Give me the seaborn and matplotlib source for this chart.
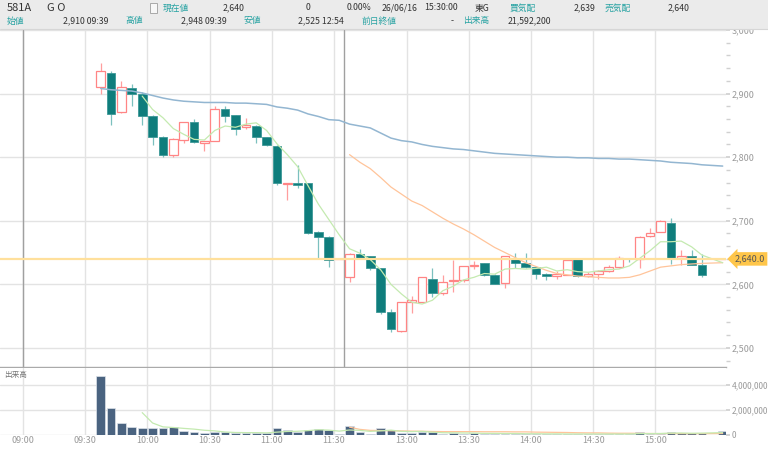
import numpy as np
import matplotlib
matplotlib.use("Agg")
import matplotlib.pyplot as plt
import seaborn as sns
from matplotlib.patches import Rectangle
from matplotlib.lines import Line2D
from matplotlib.ticker import FixedLocator, MultipleLocator, FuncFormatter

# 5-minute bars (lunch break 11:30-12:30 squeezed into one slot)
times = ["09:35", "09:40", "09:45", "09:50", "09:55", "10:00", "10:05", "10:10", "10:15", "10:20",
         "10:25", "10:30", "10:35", "10:40", "10:45", "10:50", "10:55", "11:00", "11:05", "11:10",
         "11:15", "11:20", "11:25", "11:30",
         "12:30", "12:35", "12:40", "12:45", "12:50", "12:55", "13:00", "13:05", "13:10", "13:15",
         "13:20", "13:25", "13:30", "13:35", "13:40", "13:45", "13:50", "13:55", "14:00", "14:05",
         "14:10", "14:15", "14:20", "14:25", "14:30", "14:35", "14:40", "14:45", "14:50", "14:55",
         "15:00", "15:05", "15:10", "15:15", "15:20", "15:30"]

opens = [2910, 2932, 2871, 2909, 2900, 2865, 2832, 2803, 2827, 2855, 2823, 2826, 2875, 2866, 2848,
         2849, 2831, 2818, 2758, 2760, 2759, 2683, 2675, 2640,
         2611, 2648, 2644, 2625, 2557, 2527, 2572, 2573, 2608, 2587, 2605, 2607, 2629, 2633, 2615,
         2602, 2642, 2633, 2627, 2617, 2613, 2615, 2640, 2613, 2616, 2621, 2627, 2641, 2640, 2676,
         2683, 2697, 2642, 2645, 2631, 2640]
highs = [2948, 2936, 2920, 2915, 2902, 2866, 2833, 2830, 2856, 2860, 2826, 2880, 2880, 2867, 2862,
         2850, 2832, 2819, 2760, 2788, 2760, 2684, 2676, 2640,
         2649, 2656, 2645, 2626, 2562, 2573, 2582, 2612, 2626, 2614, 2639, 2629, 2636, 2634, 2616,
         2645, 2649, 2650, 2628, 2618, 2621, 2640, 2641, 2620, 2622, 2630, 2644, 2642, 2676, 2689,
         2701, 2705, 2654, 2654, 2647, 2640]
lows = [2900, 2851, 2869, 2880, 2851, 2819, 2801, 2801, 2823, 2823, 2810, 2825, 2856, 2835, 2844,
        2823, 2818, 2757, 2733, 2752, 2679, 2641, 2628, 2640,
        2603, 2642, 2622, 2553, 2525, 2525, 2555, 2572, 2580, 2583, 2588, 2604, 2624, 2613, 2600,
        2595, 2626, 2625, 2609, 2607, 2609, 2614, 2612, 2611, 2609, 2620, 2626, 2635, 2626, 2675,
        2682, 2632, 2631, 2630, 2611, 2640]
closes = [2936, 2868, 2910, 2900, 2865, 2831, 2803, 2828, 2855, 2824, 2826, 2875, 2865, 2845, 2851,
          2832, 2819, 2760, 2760, 2756, 2680, 2675, 2638, 2640,
          2648, 2642, 2626, 2557, 2529, 2572, 2575, 2611, 2587, 2603, 2607, 2629, 2631, 2614, 2601,
          2644, 2633, 2628, 2617, 2613, 2616, 2639, 2613, 2616, 2621, 2628, 2641, 2640, 2675, 2680,
          2700, 2641, 2645, 2631, 2614, 2640]

# indicator lines
nan = np.nan
ma_short = [nan, nan, nan, nan, 2896, 2875, 2862, 2845, 2836, 2828, 2827, 2842, 2849, 2847, 2852,
            2854, 2842, 2821, 2804, 2785, 2755, 2726, 2702, 2678,
            2656, 2649, 2639, 2623, 2600, 2585, 2572, 2569, 2575, 2590, 2597, 2607, 2611, 2617, 2616,
            2624, 2625, 2624, 2625, 2627, 2621, 2623, 2620, 2619, 2621, 2623, 2624, 2629, 2641, 2653,
            2667, 2667, 2668, 2659, 2646, 2634]
ma_long = [nan] * 24 + [2804, 2792, 2782, 2768, 2753, 2742, 2731, 2724, 2714, 2704, 2695, 2687,
                        2678, 2668, 2658, 2650, 2642, 2634, 2628, 2622, 2617, 2615, 2613, 2612,
                        2611, 2610, 2610, 2611, 2615, 2621, 2627, 2629, 2631, 2632, 2633, 2634]
vwap = [2908, 2906, 2905, 2904, 2901, 2897, 2893, 2890, 2888, 2887, 2886, 2886, 2886, 2885, 2885,
        2884, 2883, 2879, 2877, 2874, 2868, 2864, 2859, 2858,
        2852, 2849, 2846, 2838, 2830, 2826, 2824, 2820, 2817, 2815, 2813, 2812, 2810, 2808, 2806,
        2805, 2804, 2803, 2802, 2801, 2800, 2800, 2799, 2799, 2798, 2798, 2797, 2797, 2796, 2795,
        2794, 2792, 2791, 2790, 2788, 2786]

volumes = [4690000, 2130000, 930000, 670000, 530000, 560000, 560000, 670000, 350000, 210000,
           130000, 270000, 240000, 160000, 130000, 160000, 160000, 530000, 430000, 240000,
           400000, 510000, 370000, 50000,
           690000, 270000, 110000, 530000, 370000, 190000, 160000, 210000, 210000, 110000,
           160000, 110000, 160000, 110000, 110000, 110000, 90000, 90000, 90000, 80000,
           80000, 80000, 80000, 80000, 80000, 80000, 80000, 80000, 210000, 110000,
           110000, 240000, 130000, 130000, 130000, 320000]
vol_ma_short = [nan, nan, nan, nan, 1790000, 960000, 650000, 600000, 530000, 470000, 380000, 330000,
                240000, 200000, 190000, 190000, 170000, 230000, 280000, 300000, 350000, 420000,
                390000, 310000,
                400000, 370000, 290000, 330000, 390000, 290000, 270000, 290000, 230000, 180000,
                170000, 160000, 150000, 130000, 130000, 120000, 120000, 100000, 100000, 90000,
                90000, 80000, 80000, 80000, 80000, 80000, 80000, 80000, 110000, 110000,
                120000, 150000, 160000, 140000, 150000, 190000]
vol_ma_long = [nan] * 24 + [630000, 450000, 370000, 360000, 340000, 330000, 310000, 300000,
                            280000, 270000, 270000, 270000, 270000, 260000, 260000, 260000,
                            250000, 250000, 230000, 220000, 210000, 200000, 180000, 170000,
                            170000, 150000, 140000, 140000, 130000, 120000, 110000, 120000,
                            110000, 110000, 110000, 120000]

last_price = 2640
tick_times = ["09:00", "09:30", "10:00", "10:30", "11:00", "11:30",
              "13:00", "13:30", "14:00", "14:30", "15:00"]
session_starts = ["09:00", "12:30"]

header_row1 = ["581A", "G O", "現在値", "2,640", "0", "0.00%", "26/06/16", "15:30:00", "東G",
               "買気配", "2,639", "売気配", "2,640"]
header_row2 = ["始値", "2,910 09:39", "高値", "2,948 09:39", "安値", "2,525 12:54", "前日終値",
               "-", "出来高", "21,592,200"]


def to_slot(hhmm):
    # minutes since 09:00, with the lunch break shrunk to 5 minutes
    h, m = map(int, hhmm.split(":"))
    mins = h * 60 + m - 540
    if mins > 150:
        mins -= 55
    return mins


x = np.array([to_slot(t) + 2.5 for t in times])
o, h, l, c = map(np.array, (opens, highs, lows, closes))
up = c >= o

sns.set_theme(style="white")
plt.rcParams['font.family'] = ['Noto Sans CJK JP', 'DejaVu Sans']

W, H = 768, 449
fig = plt.figure(figsize=(W / 100, H / 100), dpi=100)
ax = fig.add_axes([0, 1 - 367 / H, 726 / W, 337 / H])
axv = fig.add_axes([0, 1 - 435 / H, 726 / W, 67 / H], sharex=ax)

grid_c = "#e3e3e3"
lbl_c = "#9a9a9a"

# candles
ax.vlines(x[up], l[up], h[up], color="#ff9e9e", lw=0.9, zorder=2)
ax.vlines(x[~up], l[~up], h[~up], color="#7cc0bf", lw=0.9, zorder=2)
ax.bar(x[up], np.maximum(c[up] - o[up], 0.3), bottom=o[up], width=4.2,
       color="white", edgecolor="#ff8585", linewidth=0.9, zorder=3)
ax.bar(x[~up], o[~up] - c[~up], bottom=c[~up], width=4.2,
       color="#0f7d7c", edgecolor="#3d9897", linewidth=0.6, zorder=3)

sns.lineplot(x=x, y=vwap, ax=ax, color="#93b6d1", lw=1.1, zorder=4)
sns.lineplot(x=x, y=ma_long, ax=ax, color="#ffc49a", lw=0.9, zorder=4)
sns.lineplot(x=x, y=ma_short, ax=ax, color="#c4eab0", lw=0.9, zorder=4)
ax.axhline(last_price, color="#ffe09c", lw=1.6, zorder=5)
for s in session_starts:
    ax.axvline(to_slot(s), color="#a0a0a0", lw=1.0, zorder=1.5)

ax.set_xlim(-11.1, 339.1)
ax.set_ylim(2470, 3000)
ax.yaxis.tick_right()
ax.yaxis.set_major_locator(FixedLocator([2500, 2600, 2700, 2800, 2900, 3000]))
ax.yaxis.set_minor_locator(MultipleLocator(20))
ax.yaxis.set_major_formatter(FuncFormatter(lambda v, p: f"{v:,.0f}"))
ax.tick_params(axis="y", which="both", right=True, length=3, color="#d0d0d0",
               labelsize=6.5, labelcolor=lbl_c, pad=1)
ax.tick_params(axis="x", bottom=False, labelbottom=False)
ax.grid(True, color=grid_c, lw=1)
for sp in ax.spines.values():
    sp.set_visible(False)
ax.spines["bottom"].set_visible(True)
ax.spines["bottom"].set_color("#aaaaaa")
ax.spines["bottom"].set_linewidth(1.0)
ax.set_xlabel("")
ax.set_ylabel("")

ax.text(1.012, last_price, f"{last_price:,.1f}", transform=ax.get_yaxis_transform(),
        ha="left", va="center", fontsize=6.5, color="#555555", clip_on=False, zorder=10,
        bbox=dict(boxstyle="larrow,pad=0.25", fc="#ffc64a", ec="none"))

# volume panel
sns.barplot(x=x, y=volumes, ax=axv, native_scale=True, width=0.84, color="#4a6380",
            saturation=1, edgecolor="#dde3ea", linewidth=0.5, errorbar=None, zorder=3)
sns.lineplot(x=x, y=vol_ma_long, ax=axv, color="#ffc49a", lw=0.9, zorder=4)
sns.lineplot(x=x, y=vol_ma_short, ax=axv, color="#c4eab0", lw=0.9, zorder=4)
axv.set_xlim(-11.1, 339.1)
axv.set_ylim(0, 5.36e6)
axv.yaxis.tick_right()
axv.yaxis.set_major_locator(FixedLocator([0, 2e6, 4e6]))
axv.yaxis.set_major_formatter(FuncFormatter(lambda v, p: f"{v:,.0f}"))
axv.tick_params(axis="y", right=True, length=3, color="#d0d0d0",
                labelsize=6, labelcolor=lbl_c, pad=1)
axv.set_xticks([to_slot(t) for t in tick_times])
axv.set_xticklabels(tick_times)
axv.tick_params(axis="x", bottom=False, length=0, labelsize=6.5, labelcolor=lbl_c, pad=0.5)
axv.grid(True, color=grid_c, lw=1)
for sp in axv.spines.values():
    sp.set_visible(False)
axv.set_xlabel("")
axv.set_ylabel("")
axv.text(0.005, 0.86, "出来高", transform=axv.transAxes, fontsize=5.5, color="#777777")

# header band
fig.patches.append(Rectangle((0, 1 - 29 / H), 1, 29 / H, transform=fig.transFigure,
                             fc="#ebebeb", ec="none", zorder=5))
fig.lines.append(Line2D([0, 1], [1 - 29 / H] * 2, transform=fig.transFigure,
                        color="#d6d6d6", lw=0.8, zorder=6))
fig.patches.append(Rectangle((150 / W, 1 - 13 / H), 7 / W, 10 / H, transform=fig.transFigure,
                             fc="#f7f7f7", ec="#a8a8a8", lw=0.7, zorder=6))

teal = "#27a2a2"
dark = "#333333"
row1_x = [7, 47, 163, 223, 306, 347, 382, 424, 475, 510, 574, 605, 668]
row1_col = [dark, dark, teal, dark, dark, dark, dark, dark, dark, teal, dark, teal, dark]
row1_size = [8, 8] + [6.3] * 11
row2_x = [7, 63, 125, 181, 243, 298, 362, 451, 463, 508]
row2_col = [teal, dark, teal, dark, teal, dark, teal, dark, teal, dark]
for txt, px, col, fs in zip(header_row1, row1_x, row1_col, row1_size):
    fig.text(px / W, 1 - 8 / H, txt, ha="left", va="center", fontsize=fs, color=col, zorder=7)
for txt, px, col in zip(header_row2, row2_x, row2_col):
    fig.text(px / W, 1 - 21 / H, txt, ha="left", va="center", fontsize=6.3, color=col, zorder=7)

fig.savefig("out.png", dpi=100)
